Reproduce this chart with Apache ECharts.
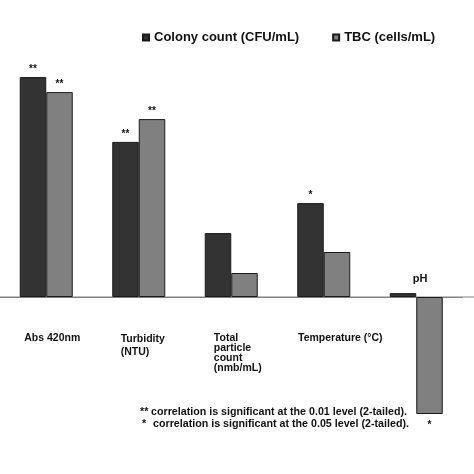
<!DOCTYPE html>
<html>
<head>
<meta charset="utf-8">
<script src="https://cdn.jsdelivr.net/npm/echarts@6/dist/echarts.min.js"></script>
<style>
  html, body { margin: 0; padding: 0; background: #fff; }
  #main { width: 474px; height: 474px; }
</style>
</head>
<body>
<div id="main"></div>
<script>
var categories = ['Abs 420nm', 'Turbidity\n(NTU)', 'Total\nparticle\ncount\n(nmb/mL)', 'Temperature (\u00b0C)', 'pH'];
var colonyValues = [0.733, 0.517, 0.213, 0.313, 0.013];
var tbcValues = [0.683, 0.593, 0.08, 0.15, -0.39];
var colonySig = ['**', '**', '', '*', ''];
var tbcSig = ['**', '**', '', '', '*'];
var labelShift = [12, 8, 13, 33, 0];
var labelLineHeight = [10, 13, 10, 10, 10];

var font = '"Liberation Sans", Arial, sans-serif';

var myChart = echarts.init(document.getElementById('main'));

function buildData(values, sig, isColony) {
    return values.map(function (v, i) {
        var item = { value: v, label: { show: true, formatter: sig[i] } };
        if (v < 0) {
            item.label.position = 'bottom';
            item.label.distance = 6;
        }
        // pH has no room below the axis, its name sits above the bars
        if (isColony && categories[i] === 'pH') {
            item.label = {
                show: true, formatter: 'pH', position: 'top', distance: 9,
                offset: [17, 0], fontSize: 11
            };
        }
        return item;
    });
}

var rich = {};
labelShift.forEach(function (s, i) {
    rich['c' + i] = {
        padding: [0, 0, 0, s], align: 'left', fontFamily: font, fontWeight: 'bold',
        fontSize: 10.5, lineHeight: labelLineHeight[i], color: '#111'
    };
});

var option = {
    animation: false,
    textStyle: { fontFamily: font },
    legend: {
        left: 142,
        top: 31,
        padding: 0,
        icon: 'rect',
        itemWidth: 6,
        itemHeight: 6,
        itemGap: 33,
        textStyle: { fontFamily: font, fontWeight: 'bold', fontSize: 13, color: '#111' },
        data: ['Colony count (CFU/mL)', 'TBC (cells/mL)']
    },
    // grid stops at zero, the negative pH bar hangs below it unclipped
    grid: { left: 0, right: 11.5, top: 57, height: 240, containLabel: false },
    xAxis: {
        type: 'category',
        data: categories,
        axisLine: { show: true, lineStyle: { color: '#808080', width: 1 } },
        axisTick: { show: false },
        axisLabel: {
            margin: 36,
            interval: 0,
            formatter: function (val, idx) {
                if (val === 'pH') return '';
                return val.split('\n').map(function (l) { return '{c' + idx + '|' + l + '}'; }).join('\n');
            },
            rich: rich
        }
    },
    yAxis: {
        type: 'value',
        min: 0,
        max: 0.8,
        axisLine: { show: false },
        axisTick: { show: false },
        axisLabel: { show: false },
        splitLine: { show: false }
    },
    series: [
        {
            name: 'Colony count (CFU/mL)',
            type: 'bar',
            clip: false,
            barWidth: 26.5,
            barGap: '0%',
            itemStyle: { color: '#333333', borderColor: '#1a1a1a', borderWidth: 1 },
            label: { position: 'top', distance: 3, fontFamily: font, fontWeight: 'bold', fontSize: 10, color: '#111' },
            data: buildData(colonyValues, colonySig, true)
        },
        {
            name: 'TBC (cells/mL)',
            type: 'bar',
            clip: false,
            barWidth: 26.5,
            itemStyle: { color: '#808080', borderColor: '#1a1a1a', borderWidth: 1 },
            label: { position: 'top', distance: 3, fontFamily: font, fontWeight: 'bold', fontSize: 10, color: '#111' },
            data: buildData(tbcValues, tbcSig, false)
        }
    ]
};

myChart.setOption(option);

// zero line continues past the last category to the picture edge
var zeroY = myChart.convertToPixel({ yAxisIndex: 0 }, 0);
var noteStyle = { fontFamily: font, fontWeight: 'bold', fontSize: 10.7, fill: '#111' };
myChart.setOption({
    graphic: [
        { type: 'line', shape: { x1: 0, y1: zeroY, x2: 474, y2: zeroY }, style: { stroke: '#808080', lineWidth: 1 }, z: 1 },
        { type: 'text', left: 140, top: 407, style: Object.assign({ text: '**' }, noteStyle) },
        { type: 'text', left: 151, top: 407, style: Object.assign({ text: 'correlation is significant at the 0.01 level (2-tailed).' }, noteStyle) },
        { type: 'text', left: 142, top: 419, style: Object.assign({ text: '*' }, noteStyle) },
        { type: 'text', left: 153, top: 419, style: Object.assign({ text: 'correlation is significant at the 0.05 level (2-tailed).' }, noteStyle) }
    ]
});
</script>
</body>
</html>
